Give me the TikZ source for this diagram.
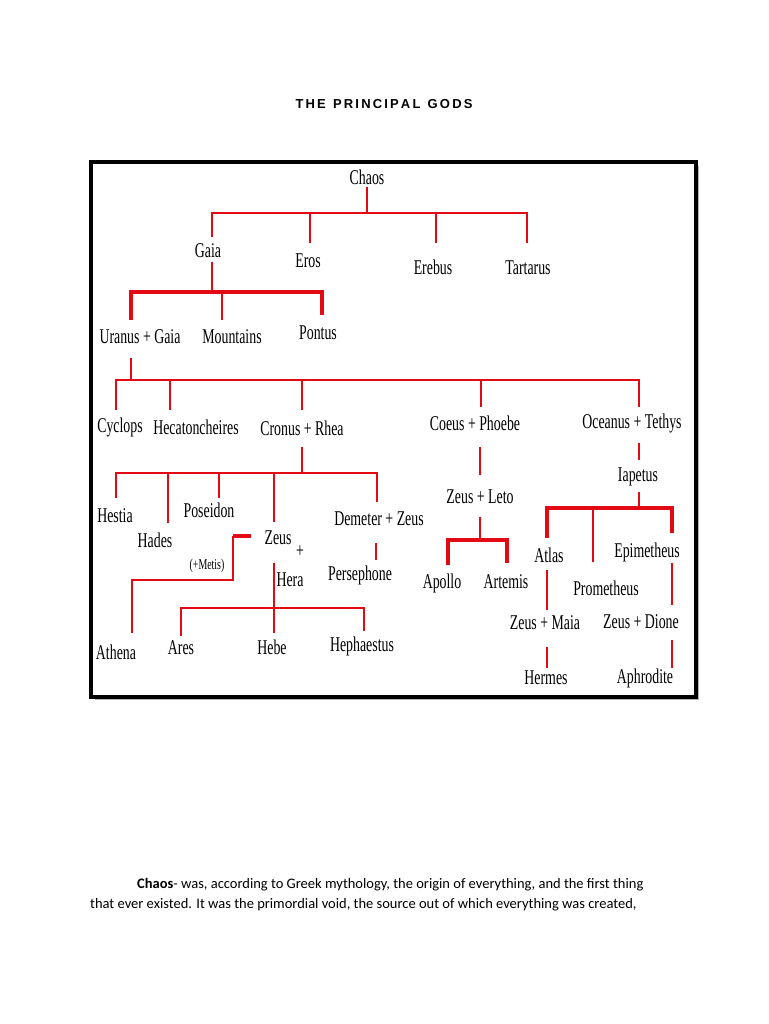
\documentclass[tikz,border=0pt]{standalone}
\usepackage{fontspec}
\setmainfont{Liberation Serif}
\newfontfamily\godfont[FakeStretch=0.66]{Liberation Serif}
\newfontfamily\titlefont{Liberation Sans}
\newfontfamily\bodyfont{Carlito}
\definecolor{tred}{RGB}{228,10,20}
\begin{document}
\begin{tikzpicture}[x=1pt,y=-1pt,
  god/.style={inner sep=0pt,font=\godfont\fontsize{21}{21}\selectfont},
  ln/.style={draw=tred,line width=2.4pt},
  thk/.style={draw=tred,line width=3.3pt}]
\useasboundingbox (0,0) rectangle (768,1024);
\fill[white] (0,0) rectangle (768,1024);
\node[font=\titlefont\bfseries\fontsize{13}{13}\selectfont] (title) at (384,104) {T\,H\,E\ \ P\,R\,I\,N\,C\,I\,P\,A\,L\ \ G\,O\,D\,S};
\fill[gray!60] (95,166) rectangle (699,700);
\draw[line width=3.5pt,fill=white] (91,162) rectangle (696,697);
% names
\node[god] (chaos) at (367,177) {Chaos};
\node[god] (gaia) at (208,251) {Gaia};
\node[god] (eros) at (308,261) {Eros};
\node[god] (erebus) at (433,267) {Erebus};
\node[god] (tartarus) at (528,268) {Tartarus};
\node[god] (ug) at (140,337) {Uranus + Gaia};
\node[god] (mount) at (232,337) {Mountains};
\node[god] (pontus) at (318,333) {Pontus};
\node[god] (cyc) at (120,427) {Cyclops};
\node[god] (hec) at (196,427) {Hecatoncheires};
\node[god] (cr) at (302,428) {Cronus + Rhea};
\node[god] (cp) at (475,423) {Coeus + Phoebe};
\node[god] (ot) at (632,423) {Oceanus + Tethys};
\node[god] (hestia) at (115,516) {Hestia};
\node[god] (hades) at (155,540) {Hades};
\node[god] (pos) at (209,510) {Poseidon};
\node[god] (zeus) at (278,538) {Zeus};
\node[god] (plus) at (300,552) {+};
\node[god] (hera) at (290,580) {Hera};
\node[god] (dz) at (379,519) {Demeter + Zeus};
\node[god] (pers) at (360,575) {Persephone};
\node[god,font=\godfont\fontsize{15}{15}\selectfont] (metis) at (207,566) {(+Metis)};
\node[god] (athena) at (116,652) {Athena};
\node[god] (ares) at (181,648) {Ares};
\node[god] (hebe) at (272,647) {Hebe};
\node[god] (heph) at (362,646) {Hephaestus};
\node[god] (zl) at (480,497) {Zeus + Leto};
\node[god] (apollo) at (442,583) {Apollo};
\node[god] (artemis) at (506,582) {Artemis};
\node[god] (iap) at (638,477) {Iapetus};
\node[god] (atlas) at (549,555) {Atlas};
\node[god] (prom) at (606,588) {Prometheus};
\node[god] (epi) at (647,552) {Epimetheus};
\node[god] (zm) at (545,623) {Zeus + Maia};
\node[god] (hermes) at (546,678) {Hermes};
\node[god] (zd) at (641,622) {Zeus + Dione};
\node[god] (aph) at (645,678) {Aphrodite};
% connectors
\draw[ln] (367,187) -- (367,213);
\draw[ln] (212,237) |- (527,213) -- (527,243);
\draw[ln] (310,213) -- (310,243); \draw[ln] (436,213) -- (436,243);
\draw[ln] (212,262) -- (212,292);
\draw[thk] (131,320) |- (322,292) -- (322,315);
\draw[ln] (222,292) -- (222,320);
\draw[ln] (131,358) -- (131,380);
\draw[ln] (116,410) |- (639,380) -- (639,407);
\draw[ln] (170,380) -- (170,410); \draw[ln] (302,380) -- (302,410); \draw[ln] (481,380) -- (481,407);
\draw[ln] (302,447) -- (302,473);
\draw[ln] (116,498) |- (377,473) -- (377,502);
\draw[ln] (168,473) -- (168,523); \draw[ln] (219,473) -- (219,498); \draw[ln] (274,473) -- (274,522);
\draw[ln] (376,543) -- (376,560);
\draw[thk] (251,536) -- (233,536);
\draw[ln] (233,536) -- (233,580) -- (132,580) -- (132,633);
\draw[ln] (274,563) -- (274,633);
\draw[ln] (181,636) |- (364,608) -- (364,631);
\draw[ln] (480,447) -- (480,475);
\draw[ln] (480,517) -- (480,540);
\draw[thk] (448,565) |- (507,540) -- (507,563);
\draw[ln] (639,443) -- (639,460);
\draw[ln] (639,492) -- (639,508);
\draw[thk] (547,538) |- (672,508) -- (672,533);
\draw[ln] (593,508) -- (593,562);
\draw[ln] (547,570) -- (547,610);
\draw[ln] (547,647) -- (547,668);
\draw[ln] (672,563) -- (672,605);
\draw[ln] (672,640) -- (672,668);
% body text
\node[anchor=west,inner sep=0pt,font=\bodyfont\fontsize{14.5}{14.5}\selectfont] (p1) at (137,885) {\textbf{Chaos}- was, according to Greek mythology, the origin of everything, and the first thing};
\node[anchor=west,inner sep=0pt,font=\bodyfont\fontsize{14.5}{14.5}\selectfont] (p2) at (90,905) {that ever existed. It was the primordial void, the source out of which everything was created,};
\end{tikzpicture}
\end{document}
